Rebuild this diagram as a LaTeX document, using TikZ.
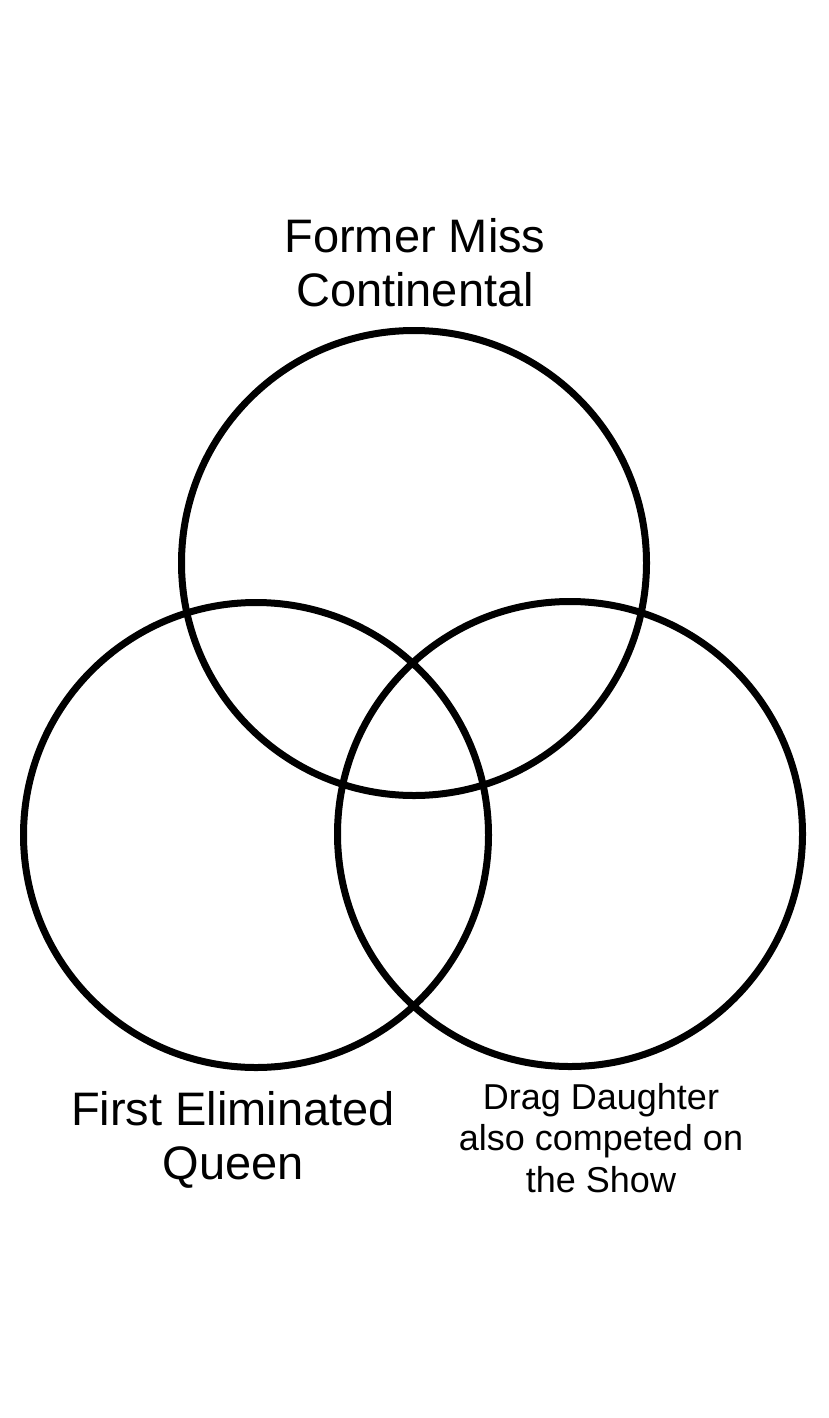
\documentclass[tikz,border=0pt]{standalone}
\usepackage{fontspec}
\setmainfont{Liberation Sans}
\usepackage{tikz}
\usetikzlibrary{positioning}

\begin{document}
\begin{tikzpicture}[x=1pt,y=-1pt,
 ring/.style={draw=black,circle,line width=7pt,minimum size=465pt,inner sep=0pt},
 biglbl/.style={align=center,font=\fontsize{47}{54}\selectfont,inner sep=0pt},
 smalllbl/.style={align=center,font=\fontsize{36}{41.5}\selectfont,inner sep=0pt}]
\useasboundingbox[fill=white] (0,0) rectangle (828,1418);
\node[ring] (miss) at (414,563) {};
\node[ring] (elim) at (256,835) {};
\node[ring] (daughter) at (570,834) {};
\node[biglbl] (misslbl) at (415,263) {Former Miss\\Continental};
\node[biglbl] (elimlbl) at (233,1140) {First Eliminated\\Queen};
\node[smalllbl] (daughterlbl) at (601,1138) {Drag Daughter\\also competed on\\the Show};
\end{tikzpicture}
\end{document}
